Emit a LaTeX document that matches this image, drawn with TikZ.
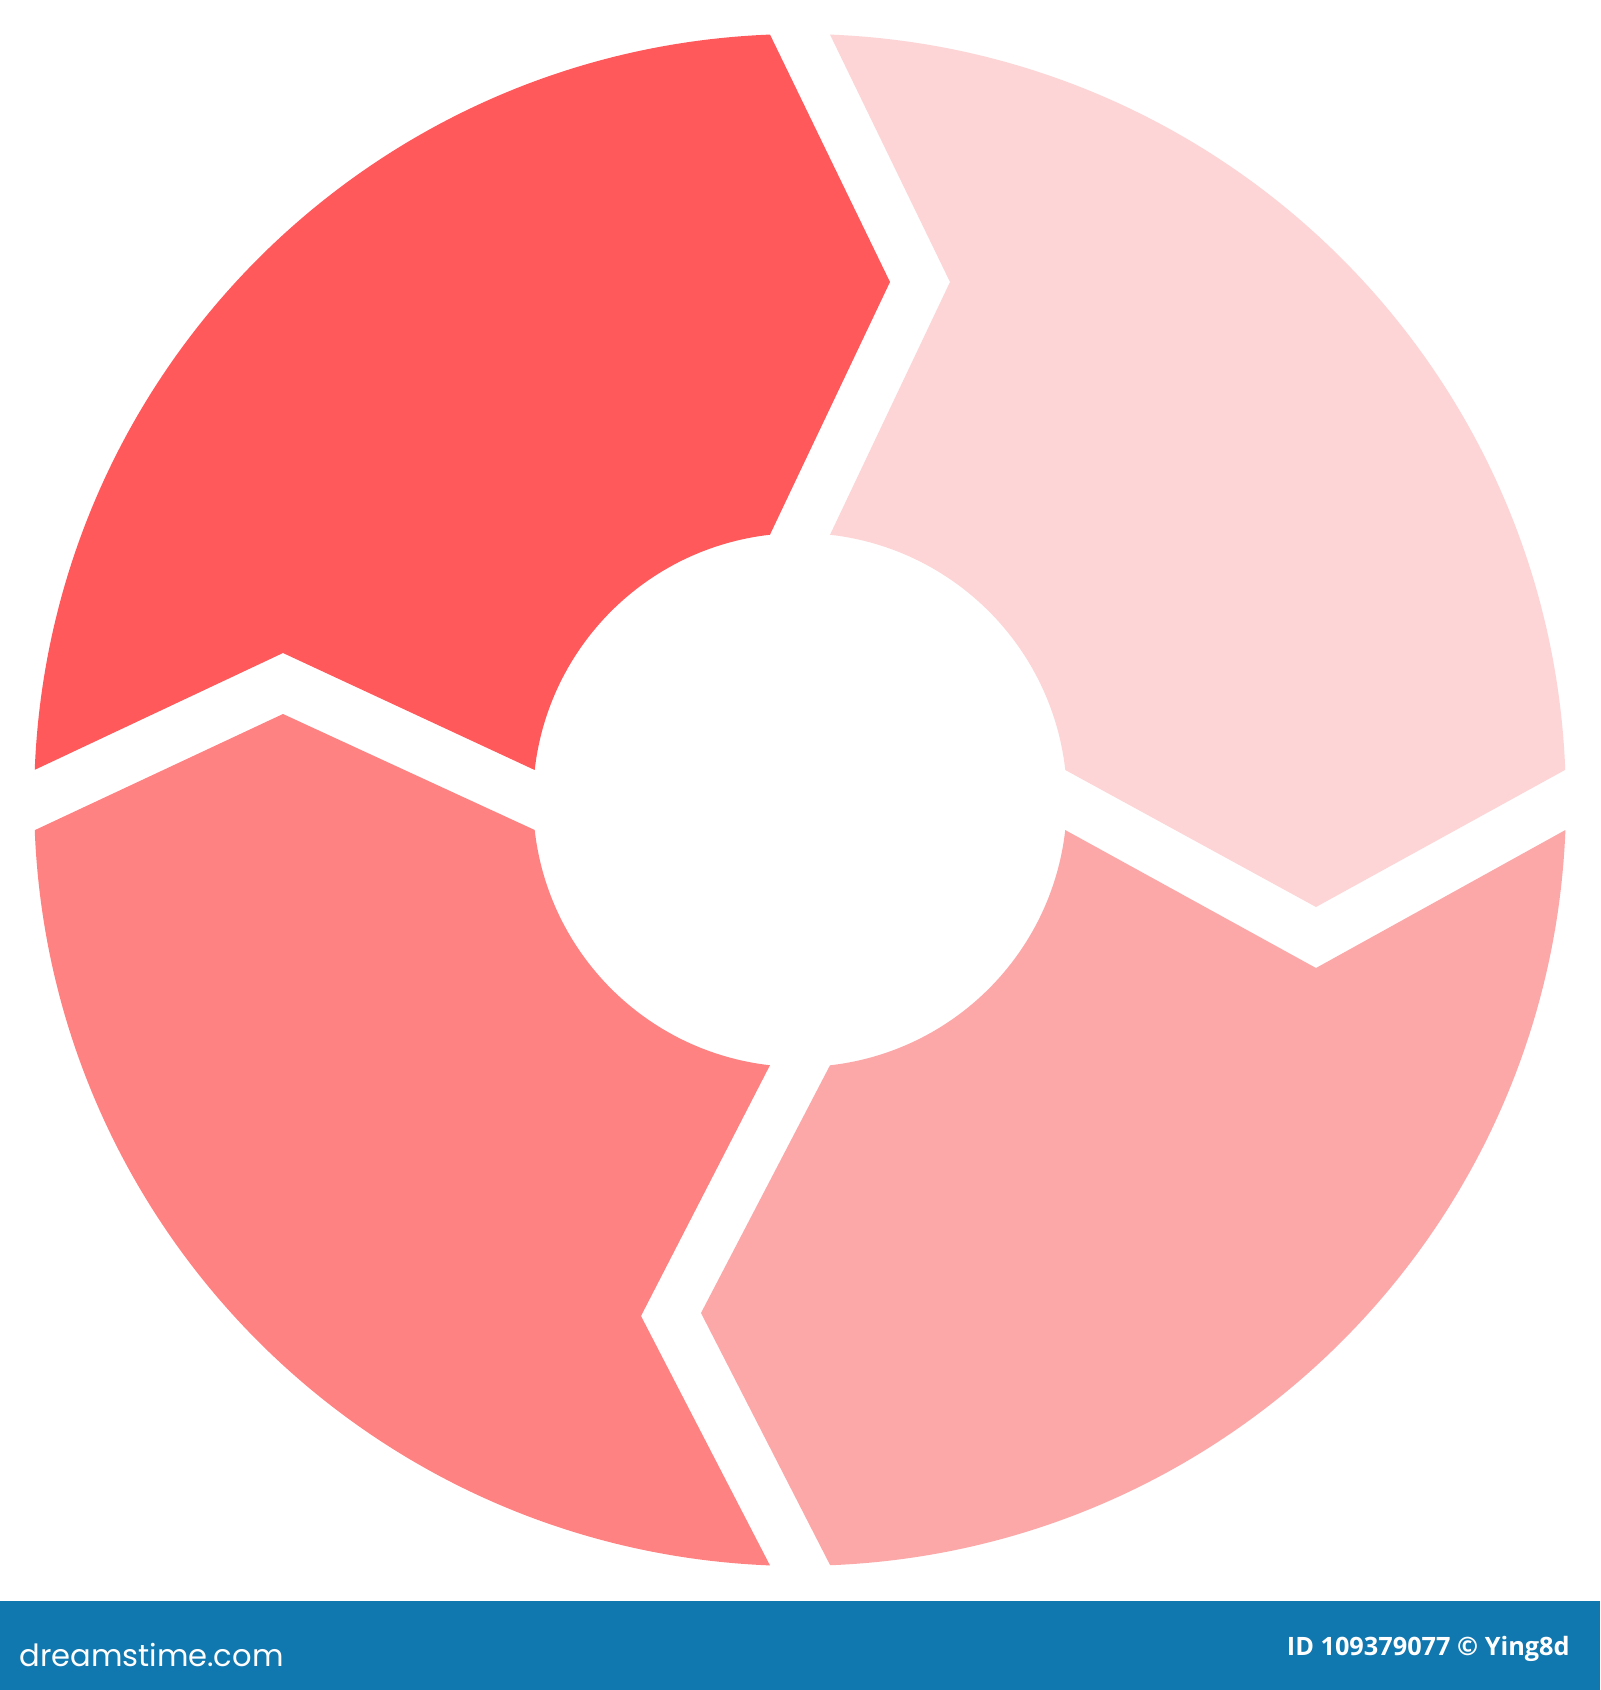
\documentclass[tikz,border=0pt]{standalone}
\usepackage{fontspec}
\newfontfamily\idfont{Open Sans}
\newfontfamily\logofont{Poppins}
\definecolor{segA}{RGB}{255,89,91}
\definecolor{segB}{RGB}{253,213,214}
\definecolor{segC}{RGB}{252,168,169}
\definecolor{segD}{RGB}{255,130,130}
\definecolor{barblue}{RGB}{16,119,175}
\begin{document}
\begin{tikzpicture}[x=0.02cm,y=0.02cm,
  outerR/.style={radius=15.32cm},
  innerR/.style={radius=5.34cm},
  bartext/.style={text=white, inner sep=0pt}]
\useasboundingbox (-800,800) rectangle (800,-890);
\fill[white] (-800,800) rectangle (800,-890);
% top-left segment
\fill[segA] (-30,765.41) arc[start angle=92.245, end angle=177.755, outerR]
  -- (-517,147) -- (-265.31,30) arc[start angle=173.55, end angle=96.45, innerR]
  -- (90,518) -- cycle;
% top-right segment
\fill[segB] (30,765.41) arc[start angle=87.755, end angle=2.245, outerR]
  -- (516,-107) -- (265.31,30) arc[start angle=6.45, end angle=83.55, innerR]
  -- (150,518) -- cycle;
% bottom-right segment
\fill[segC] (765.41,-30) arc[start angle=-2.245, end angle=-87.755, outerR]
  -- (-99,-513) -- (30,-265.31) arc[start angle=-83.55, end angle=-6.45, innerR]
  -- (516,-168) -- cycle;
% bottom-left segment
\fill[segD] (-30,-765.41) arc[start angle=-92.245, end angle=-177.755, outerR]
  -- (-517,86) -- (-265.31,-30) arc[start angle=-173.55, end angle=-96.45, innerR]
  -- (-159,-516) -- cycle;
% bottom bar
\fill[barblue] (-800,-801) rectangle (800,-890);
\node[bartext, anchor=base west, font=\logofont\fontsize{17.4}{17.4}\selectfont] (logo) at (-781,-866) {dreamstime.com};
\node[bartext, anchor=base east, font=\idfont\bfseries\fontsize{14.4}{14.4}\selectfont] (id) at (770,-855) {ID 109379077 © Ying8d};
\end{tikzpicture}
\end{document}
